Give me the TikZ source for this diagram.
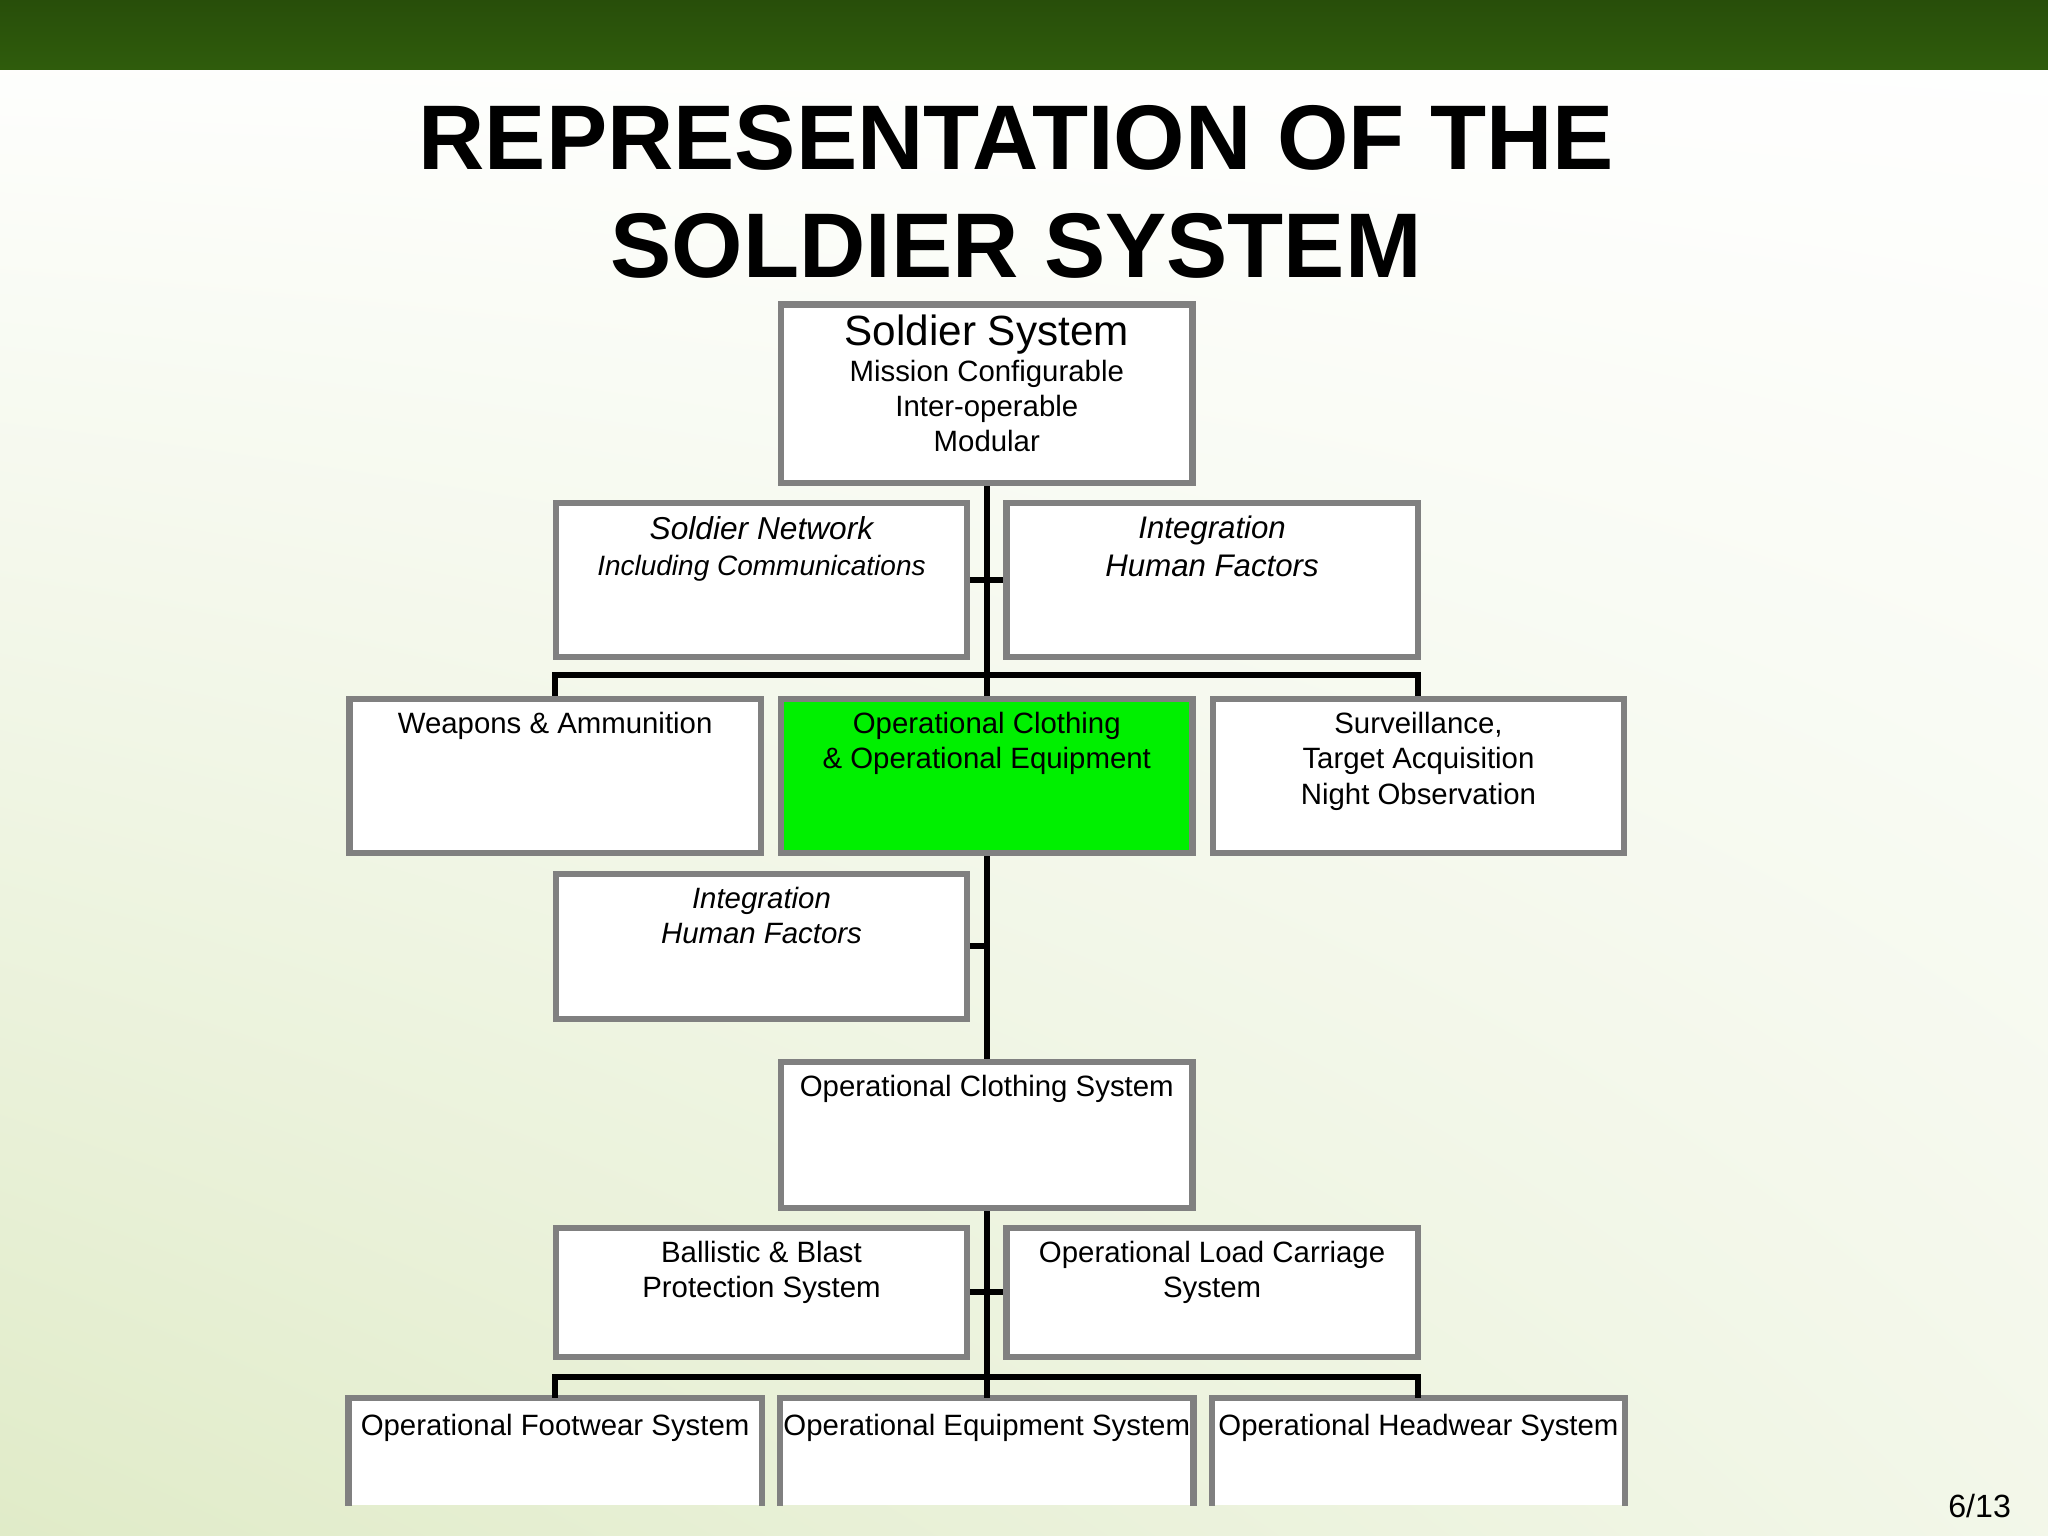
\documentclass[tikz,border=0pt]{standalone}
\usepackage{fontspec}
\setmainfont{Liberation Sans}
\usetikzlibrary{positioning, calc, shadings}
\definecolor{bandgreen}{HTML}{2F5C0C}
\definecolor{boxgray}{HTML}{808080}
\definecolor{paleg}{HTML}{E0EBC8}
\definecolor{brightg}{HTML}{00F000}
\begin{document}
\begin{tikzpicture}[
            box/.style={rectangle, draw=boxgray, line width=1.4pt, minimum width=3.15cm,
                    minimum height=1.18cm, fill=white, inner sep=0pt},
            txt/.style={anchor=north, align=center, font=\fontsize{6.4}{7.7}\selectfont, inner sep=0pt},
            link/.style={line width=1.3pt, black},
            ]

            % page and background
            \useasboundingbox (0,0) rectangle (15.68,-11.76);
            \shade[upper left=white, upper right=white, lower left=paleg, lower right=paleg!40!white]
                (0,0) rectangle (15.68,-11.76);
            \shade[top color=bandgreen!85!black, bottom color=bandgreen] (0,0) rectangle (15.68,-0.53);
            \node[font=\bfseries\fontsize{20}{23.5}\selectfont, align=center] (title) at (7.78,-1.47)
                {REPRESENTATION OF THE\\SOLDIER SYSTEM};
            \node[font=\fontsize{7}{9}\selectfont, anchor=east] (page) at (15.52,-11.53) {6/13};

            % boxes
            \node[box, minimum height=1.37cm] (top) at (7.555,-3.015) {};
            \node[box] (net) at (5.83,-4.44) {};
            \node[box] (hf1) at (9.28,-4.44) {};
            \node[box] (weap) at (4.25,-5.94) {};
            \node[box, fill=brightg] (ocoe) at (7.555,-5.94) {};
            \node[box] (surv) at (10.86,-5.94) {};
            \node[box, minimum height=1.11cm] (hf2) at (5.83,-7.245) {};
            \node[box, minimum height=1.12cm] (ocs) at (7.555,-8.69) {};
            \node[box, minimum height=0.99cm] (ball) at (5.83,-9.895) {};
            \node[box, minimum height=0.99cm] (load) at (9.28,-9.895) {};
            \foreach \n/\x in {foot/4.25, equip/7.555, head/10.86}{
                \node[minimum width=3.15cm, minimum height=0.81cm, fill=white, inner sep=0pt] (\n) at (\x,-11.115) {};
                \draw[boxgray, line width=1.4pt] (\n.south west) -- (\n.north west) -- (\n.north east) -- (\n.south east);
            }

            % texts
            \node[txt, below=0.1cm of top.north, font=\fontsize{6.4}{7.7}\selectfont] (ttop)
                {{\fontsize{9.2}{10}\selectfont Soldier System}\\Mission Configurable\\Inter-operable\\Modular};
            \node[txt, below=0.12cm of net.north, font=\itshape\fontsize{6.1}{8}\selectfont] (tnet)
                {{\fontsize{6.9}{8}\selectfont Soldier Network}\\Including Communications};
            \node[txt, below=0.12cm of hf1.north, font=\itshape\fontsize{6.8}{8.3}\selectfont] (thf1) {Integration\\Human Factors};
            \node[txt, below=0.12cm of weap.north] (tweap) {Weapons \& Ammunition};
            \node[txt, below=0.12cm of ocoe.north] (tocoe) {Operational Clothing\\\& Operational Equipment};
            \node[txt, below=0.12cm of surv.north] (tsurv) {Surveillance,\\Target Acquisition\\Night Observation};
            \node[txt, below=0.12cm of hf2.north, font=\itshape\fontsize{6.4}{7.7}\selectfont] (thf2) {Integration\\Human Factors};
            \node[txt, below=0.12cm of ocs.north] (tocs) {Operational Clothing System};
            \node[txt, below=0.12cm of ball.north] (tball) {Ballistic \& Blast\\Protection System};
            \node[txt, below=0.12cm of load.north] (tload) {Operational Load Carriage\\System};
            \node[txt, below=0.12cm of foot.north] (tfoot) {Operational Footwear System};
            \node[txt, below=0.12cm of equip.north] (tequip) {Operational Equipment System};
            \node[txt, below=0.12cm of head.north] (thead) {Operational Headwear System};

            % connectors
            \draw[link] (top.south) -- (ocoe.north);
            \draw[link] (net.east) -- (hf1.west);
            \draw[link] (weap.north) -- ++(0,0.16) -| (surv.north);
            \draw[link] (ocoe.south) -- (ocs.north);
            \draw[link] (hf2.east) -- (hf2.east -| ocoe.south);
            \draw[link] (ocs.south) -- (equip.north);
            \draw[link] (ball.east) -- (load.west);
            \draw[link] (foot.north) -- ++(0,0.16) -| (head.north);

        \end{tikzpicture}
\end{document}
